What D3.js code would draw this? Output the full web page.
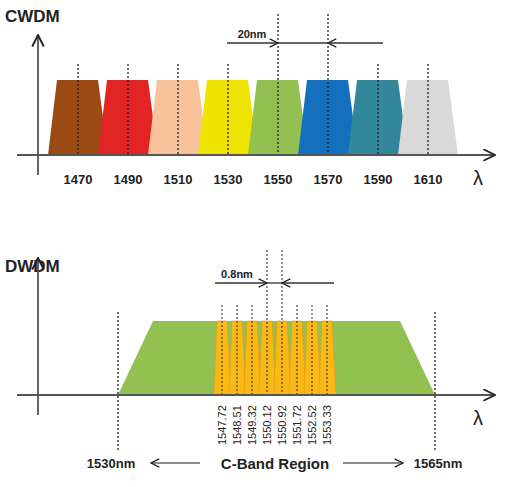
<!DOCTYPE html><html><head><meta charset="utf-8"><script src="https://cdn.jsdelivr.net/npm/d3@7"></script>
<style>body{margin:0;background:#fff}text{font-family:"Liberation Sans",Arial,sans-serif}</style></head><body><svg width="521" height="487"></svg>
<script>
const cwdmChannels=[1470,1490,1510,1530,1550,1570,1590,1610];
const cwdmColors=["#9b4a14","#e32424","#f8c39b","#efe400","#92c152","#1470bf","#32879b","#d9d9d9"];
const cwdmSpacing=["20nm"];
const dwdmChannels=["1547.72","1548.51","1549.32","1550.12","1550.92","1551.72","1552.52","1553.33"];
const cBand=[1530,1565];
const dwdmSpacing=["0.8nm"];

const svg=d3.select("svg");
const defs=svg.append("defs");
function marker(id){defs.append("marker").attr("id",id).attr("viewBox","0 0 10 10").attr("refX",9).attr("refY",5)
 .attr("markerWidth",8).attr("markerHeight",8).attr("orient","auto-start-reverse")
 .append("path").attr("d","M1,1L9,5L1,9").attr("fill","none").attr("stroke","#222").attr("stroke-width",1.3);}
marker("ah");
function line(x1,y1,x2,y2,opt={}){const l=svg.append("line").attr("x1",x1).attr("y1",y1).attr("x2",x2).attr("y2",y2)
 .attr("stroke",opt.c||"#333").attr("stroke-width",opt.w||1.5);if(opt.dash)l.attr("stroke-dasharray",opt.dash);if(opt.arrow)l.attr("marker-end","url(#ah)");return l;}
function text(x,y,s,opt={}){return svg.append("text").attr("x",x).attr("y",y).text(s).attr("font-size",opt.fs||13)
 .attr("font-weight",opt.fw||"bold").attr("text-anchor",opt.a||"middle").attr("fill",opt.c||"#222");}

// CWDM
const x1=d3.scaleLinear().domain([1470,1610]).range([78,428]);
const y1Base=155,y1Top=80;
text(5,22,"CWDM",{fs:17,a:"start"});
cwdmChannels.forEach((ch,i)=>{const c=x1(ch);
 svg.append("path").attr("d",`M${c-30},${y1Base}L${c-21},${y1Top}L${c+20},${y1Top}L${c+30},${y1Base}Z`).attr("fill",cwdmColors[i]);});
cwdmChannels.forEach(ch=>{const c=x1(ch);const top=(ch===1550||ch===1570)?14:64;
 line(c,top,c,y1Base,{dash:"2,2",c:"#222",w:1.3});
 text(c,184,ch,{fs:13});});
line(17,y1Base,495,y1Base,{arrow:true,w:1.8,c:"#555"});
line(38,175,38,35,{arrow:true,w:1.8,c:"#555"});
text(478,185,"λ",{fs:20,fw:"normal"});
line(227,43,x1(1550),43,{arrow:true,w:1.3});
line(x1(1550),43,x1(1570),43,{w:1.3});
line(383,43,x1(1570),43,{arrow:true,w:1.3});
text(252,38,cwdmSpacing[0],{fs:11});

// DWDM
const x2=d3.scaleLinear().domain(cBand).range([118,435]);
const xc=d3.scalePoint().domain(dwdmChannels).range([222,327]);
const y2Base=395,y2Top=321;
text(5,272,"DWDM",{fs:17,a:"start"});
svg.append("path").attr("d",`M${x2(1530)},${y2Base}L${153},${y2Top}L${400},${y2Top}L${x2(1565)},${y2Base}Z`).attr("fill","#92c152");
dwdmChannels.forEach(ch=>{const c=xc(ch);
 svg.append("path").attr("d",`M${c-8},${y2Base}L${c-5},${y2Top}L${c+5},${y2Top}L${c+9},${y2Base}Z`).attr("fill","#fbb917").attr("stroke","#e09a10").attr("stroke-width",0.6);});
dwdmChannels.forEach((ch,i)=>{const c=xc(ch);const top=(i===3||i===4)?250:305;
 line(c,top,c,y2Base,{dash:"2,2",c:"#222",w:1});
 svg.append("text").attr("transform",`translate(${c+4},445) rotate(-90)`).text(ch).attr("font-size",11)
  .attr("font-family","'Liberation Sans Narrow','DejaVu Sans Condensed',sans-serif").attr("fill","#222");});
cBand.forEach(v=>line(x2(v),312,x2(v),450,{dash:"2,2",c:"#222",w:1.3}));
line(17,y2Base,495,y2Base,{arrow:true,w:1.8,c:"#555"});
line(38,415,38,258,{arrow:true,w:1.8,c:"#555"});
text(478,425,"λ",{fs:20,fw:"normal"});
line(215,283,xc(dwdmChannels[3]),283,{arrow:true,w:1.3});
line(xc(dwdmChannels[3]),283,xc(dwdmChannels[4]),283,{w:1.3});
line(334,283,xc(dwdmChannels[4]),283,{arrow:true,w:1.3});
text(237,278,dwdmSpacing[0],{fs:11});
text(111,468,cBand[0]+"nm",{fs:13});
text(438,468,cBand[1]+"nm",{fs:13});
text(275,469,"C-Band Region",{fs:15});
line(200,463,151,463,{arrow:true,w:1.3,c:"#666"});
line(343,463,403,463,{arrow:true,w:1.3,c:"#666"});
</script></body></html>
